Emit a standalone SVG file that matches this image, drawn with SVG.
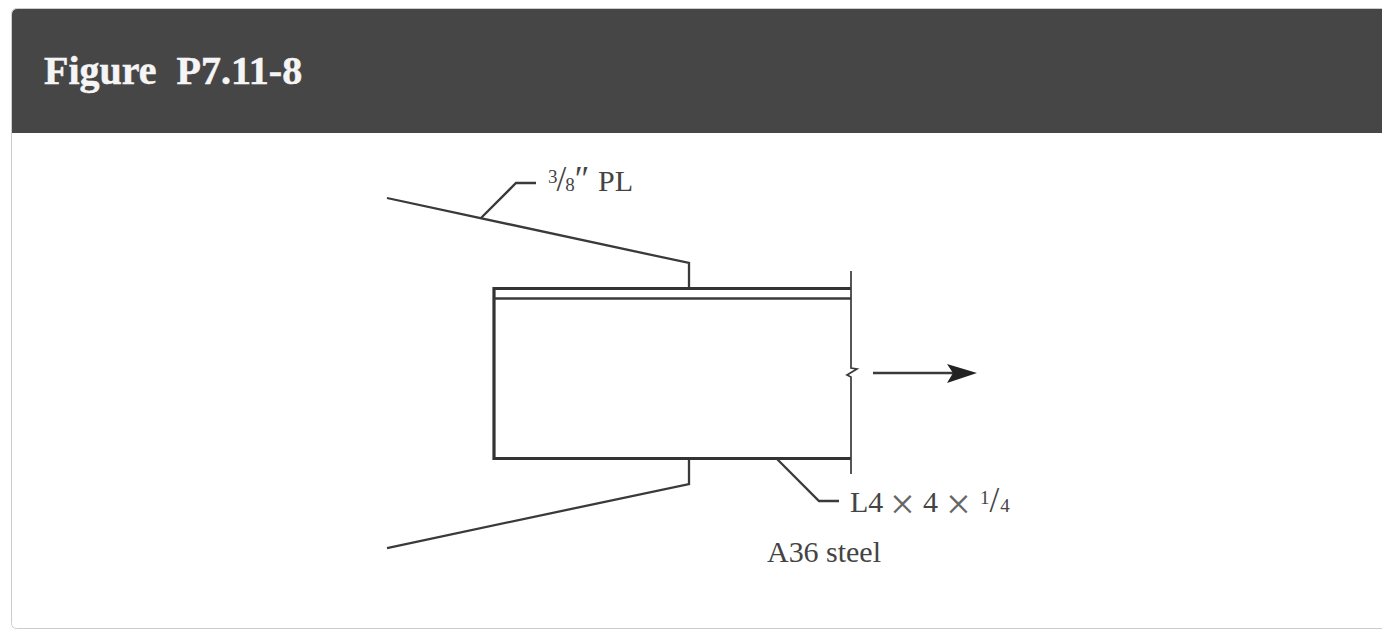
<svg xmlns="http://www.w3.org/2000/svg" width="1382" height="633" viewBox="0 0 1382 633">
<style>
.l{fill:none;stroke:#3a3a3a;stroke-width:2.300}
.m{fill:none;stroke:#333;stroke-width:3.200}
.t{font-family:"Liberation Serif",serif;fill:#444;font-size:30px}
.s{font-size:19px}
.f{font-size:35px}
.x{font-family:"Liberation Serif",serif;font-size:44px;fill:#666}
</style>
<rect x="0" y="0" width="1382" height="633" fill="#fff"/>
<g id="panel">
<rect x="11.500" y="8.500" width="1400" height="620" rx="5" fill="#fff" stroke="#ccc"/>
<path d="M12 133V14a5 5 0 0 1 5-5H1382V133Z" fill="#464646"/>
<text x="44" y="84" font-family="'Liberation Serif',serif" font-weight="700" font-size="40px" fill="#f5f5f5" stroke="#f5f5f5" stroke-width="0.500" xml:space="preserve">Figure  P7.11-8</text>
</g>
<g id="plate">
<path class="l" d="M387 198L689 263V288"/>
<path class="l" d="M387 548L689 484V459"/>
</g>
<g id="angle">
<path class="m" d="M851 288.500H494V458.500H851"/>
<path class="l" d="M494 298.500H851"/>
<path class="l" style="stroke-width:1.700" d="M851 271V368L857 369L847 375L851 377V474"/>
</g>
<g id="connectors">
<path class="l" d="M481 218L516 183H536"/>
<path class="l" d="M777 459L819 501H839"/>
<path class="l" d="M873 373H955"/>
<path d="M947 364L977 373L947 383L953 373Z" fill="#222"/>
</g>
<g id="labels">
<text class="t" x="548" y="191"><tspan class="s" dy="-8">3</tspan><tspan class="f" dy="8" dx="-1">/</tspan><tspan class="s" dx="-1">8</tspan><tspan class="f">″</tspan><tspan x="598">PL</tspan></text>
<text class="t" x="850" y="512">L4</text>
<text class="x" x="890" y="518.500">×</text>
<text class="t" x="923" y="512">4</text>
<text class="x" x="946" y="518.500">×</text>
<text class="t" x="980" y="512"><tspan class="s" dy="-8">1</tspan><tspan class="f" dy="8" dx="0">/</tspan><tspan class="s" dx="1">4</tspan></text>
<text class="t" x="767" y="562" textLength="114">A36 steel</text>
</g>
</svg>
